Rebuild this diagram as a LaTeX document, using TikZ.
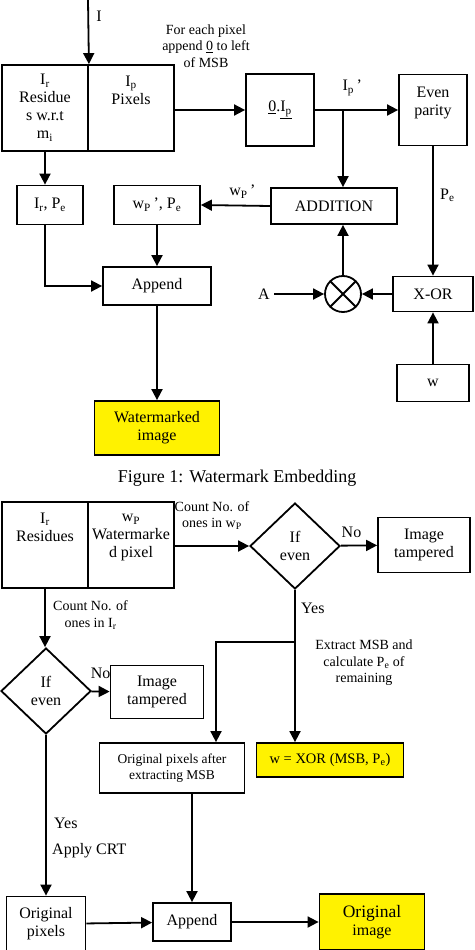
\documentclass[tikz,border=0pt]{standalone}
\usepackage{fontspec}
\setmainfont{Liberation Serif}
\usepackage{tikz}
\usetikzlibrary{arrows.meta}
\usetikzlibrary{calc}
\usetikzlibrary{shapes.geometric}
\tikzstyle{block} = [draw,line width=1.8pt,fill=white,align=center,inner sep=1pt]
\tikzstyle{yel} = [block,fill=yellow]
\tikzstyle{dec} = [draw,line width=1.8pt,diamond,align=center,inner sep=0pt,minimum width=90pt,minimum height=86pt]
\tikzstyle{mult} = [draw,line width=1.8pt,circle,minimum size=36pt,inner sep=0pt]
\tikzstyle{lbl} = [align=center,font=\fontsize{14}{16.5}\selectfont]

\begin{document}
\begin{tikzpicture}[x=1pt,y=-1pt,>={Triangle[length=11pt,width=11pt]},line width=1.8pt,
    font=\fontsize{16}{18}\selectfont]
\useasboundingbox (0,0) rectangle (474,950);

% Watermark embedding
    \coordinate (inp) at (88,0);
    \node[block,minimum width=86pt,minimum height=86pt] at (45,108) (ir)
        {I\textsubscript{r}\\Residue\\s w.r.t\\m\textsubscript{i}};
    \node[block,minimum width=86pt,minimum height=86pt] at (131,108) (ip)
        {I\textsubscript{p}\\Pixels\\~\\~};
    \node[block,minimum width=68pt,minimum height=72pt] at (280,110) (zip)
        {\underline{0}.\underline{I\textsubscript{p}}};
    \node[block,minimum width=68pt,minimum height=71pt] at (433,110) (even) {Even\\parity\\~};
    \node[block,minimum width=126pt,minimum height=36pt] at (334,206) (add) {ADDITION};
    \node[block,minimum width=86pt,minimum height=39pt] at (157,205) (wpe)
        {w\textsubscript{P}\,’, P\textsubscript{e}};
    \node[block,minimum width=66pt,minimum height=39pt] at (50,205) (ire)
        {I\textsubscript{r}, P\textsubscript{e}};
    \node[block,minimum width=108pt,minimum height=38pt] at (157,286) (app) {Append};
    \node[yel,minimum width=125pt,minimum height=54pt] at (157,428) (wm) {Watermarked\\image};
    \node[mult] at (343,294) (mul) {};
    \node at (264,294) (a) {A};
    \node[block,minimum width=80pt,minimum height=35pt] at (433,294) (xor) {X-OR};
    \node[block,minimum width=72pt,minimum height=37pt] at (433,383) (wb) {w};
    \coordinate (br) at (343,110);
    \node[lbl] at (206,46) (note) {For each pixel\\append \underline{0} to left\\of MSB};
    \node[font=\fontsize{18}{20}\selectfont] at (237,478) (cap) {Figure 1: Watermark Embedding};

    \draw (mul.45) -- (mul.225) (mul.135) -- (mul.315);
    \draw[->] (inp) -- node[pos=0.25,right=4pt] {I} (ir.north east);
    \draw[->] (ip.east |- zip) -- (zip.west);
    \draw[->] (zip.east) -- node[above=10pt,pos=0.45] {I\textsubscript{p}\,’} (even.west);
    \draw[->] (br) -- (br |- add.north);
    \draw[->] (even.south) -- node[pos=0.38,right=3pt] {P\textsubscript{e}} (xor.north);
    \draw[->] (add.west) -- node[above=3pt,pos=0.4] {w\textsubscript{P}\,’} (wpe.east);
    \draw[->] (ir.south) -- (ir.south |- ire.north);
    \draw[->] (ir.south |- ire.south) |- (app.west);
    \draw[->] (wpe) -- (app);
    \draw[->] (app) -- (wm);
    \draw[->] (mul.north) -- (mul.north |- add.south);
    \draw[->] (a) -- (mul);
    \draw[->] (xor) -- (mul);
    \draw[->] (wb) -- (xor);

% Watermark extraction
    \node[block,minimum width=86pt,minimum height=86pt] at (45,545) (irb)
        {I\textsubscript{r}\\Residues\\~\\~};
    \node[block,minimum width=86pt,minimum height=86pt] at (131,545) (wpb)
        {w\textsubscript{P}\\Watermarke\\d pixel\\~};
    \node[dec] at (295,546) (ife1) {If\\even};
    \node[block,minimum width=92pt,minimum height=55pt] at (424,545) (tamp1) {Image\\tampered};
    \node[yel,minimum width=147pt,minimum height=34pt,font=\fontsize{14.5}{17}\selectfont] at (330,760) (wx)
        {w = XOR (MSB, P\textsubscript{e})};
    \coordinate (brb) at (295,642);
    \coordinate (kk) at (216,642);
    \node[lbl] at (364,663) (note2) {Extract MSB and\\calculate P\textsubscript{e} of\\remaining};
    \node[dec] at (46,691) (ife2) {If\\even};
    \node[block,minimum width=93pt,minimum height=53pt] at (157,692) (tamp2) {Image\\tampered};
    \node[block,minimum width=145pt,minimum height=50pt,font=\fontsize{13.5}{16}\selectfont] at (172,768) (opm)
        {Original pixels after\\extracting MSB};
    \node[block,minimum width=79pt,minimum height=55pt] at (46,924) (op) {Original\\pixels};
    \node[block,minimum width=78pt,minimum height=38pt] at (192,922) (app2) {Append};
    \node[yel,minimum width=105pt,minimum height=56pt] at (372,922) (orig)
        {\fontsize{17.5}{20}\selectfont Original\\image};

    \draw[->] (wpb.east |- ife1) -- node[lbl,above=12pt] {Count No. of\\ones in w\textsubscript{P}} (ife1.west);
    \draw[->] (ife1) -- node[above=4pt,pos=0.3] {No} (tamp1);
    \draw[->] (ife1.south) -- node[pos=0.12,right=2pt] {Yes} (ife1.south |- wx.north);
    \draw[->] (brb) -- (kk) -- (kk |- opm.north);
    \draw[->] (irb.south) -- node[lbl,right=4pt,pos=0.45] {Count No. of\\ones in I\textsubscript{r}} (irb.south |- ife2.north);
    \draw[->] (ife2) -- node[above=9pt] {No} (tamp2);
    \draw[->] (ife2.south) -- node[pos=0.55,right=4pt] {Yes}
        node[pos=0.72,right=2pt] {Apply CRT} (op.north);
    \draw[->] (opm.south -| app2) -- (app2.north);
    \draw[->] (op) -- (app2);
    \draw[->] (app2) -- (orig);

\end{tikzpicture}
\end{document}
